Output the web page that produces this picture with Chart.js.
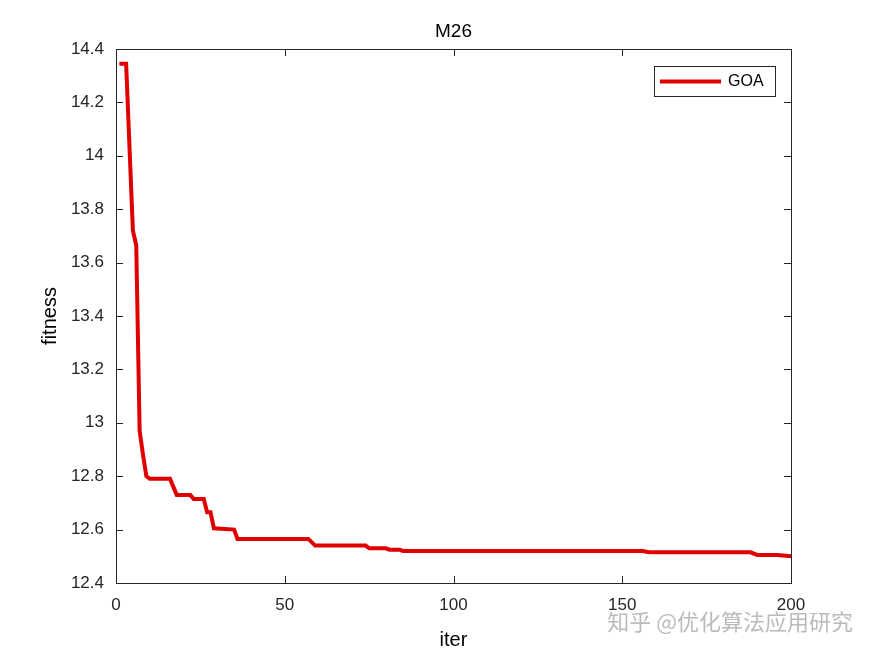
<!DOCTYPE html>
<html>
<head>
<meta charset="utf-8">
<script src="https://cdn.jsdelivr.net/npm/chart.js@4"></script>
<style>
body { margin: 0; background: #fff; }
#wrap { width: 875px; height: 656px; position: relative; }
</style>
</head>
<body>
<div id="wrap"><canvas id="c" width="875" height="656"></canvas></div>
<script>
// breakpoints of the convergence curve (iteration, best fitness)
const iters = [1, 3, 5, 6, 7, 8, 9, 10, 16, 18, 22, 23, 26, 27, 28, 29, 35, 36, 57, 59, 74, 75, 80, 81, 84, 85, 156, 158, 188, 190, 196, 200]
const fitness = [14.345, 14.345, 13.72, 13.665, 12.97, 12.88, 12.80, 12.79, 12.79, 12.73, 12.73, 12.715, 12.715, 12.665, 12.665, 12.605, 12.60, 12.565, 12.565, 12.54, 12.54, 12.53, 12.53, 12.525, 12.525, 12.52, 12.52, 12.515, 12.515, 12.505, 12.505, 12.50]
const yTicks = [12.4, 12.6, 12.8, 13, 13.2, 13.4, 13.6, 13.8, 14, 14.2, 14.4]
const xTicks = [0, 50, 100, 150, 200]

const font = "'Liberation Sans', Arial, sans-serif"

const framePlugin = {
    id: 'frame',
    afterDraw(chart) {
        const ctx = chart.ctx
        const a = chart.chartArea
        const xs = chart.scales.x, ys = chart.scales.y
        ctx.save()
        ctx.strokeStyle = '#262626'
        ctx.lineWidth = 1
        ctx.strokeRect(a.left + 0.5, a.top + 0.5, a.right - a.left, a.bottom - a.top)
        ctx.beginPath()
        xTicks.forEach(v => {
            const p = Math.round(xs.getPixelForValue(v)) + 0.5
            ctx.moveTo(p, a.bottom); ctx.lineTo(p, a.bottom - 7)
            ctx.moveTo(p, a.top); ctx.lineTo(p, a.top + 7)
        })
        yTicks.forEach(v => {
            const p = Math.round(ys.getPixelForValue(v)) + 0.5
            ctx.moveTo(a.left, p); ctx.lineTo(a.left + 7, p)
            ctx.moveTo(a.right, p); ctx.lineTo(a.right - 7, p)
        })
        ctx.stroke()
        // title
        ctx.fillStyle = '#000'
        ctx.font = '19px ' + font
        ctx.textAlign = 'center'
        ctx.textBaseline = 'middle'
        ctx.fillText('M26', (a.left + a.right) / 2, 32)
        // legend
        ctx.fillStyle = '#fff'
        ctx.fillRect(654.5, 66.5, 121, 30)
        ctx.strokeRect(654.5, 66.5, 121, 30)
        ctx.strokeStyle = '#e00000'
        ctx.lineWidth = 4
        ctx.beginPath(); ctx.moveTo(660, 81.5); ctx.lineTo(721, 81.5); ctx.stroke()
        ctx.fillStyle = '#000'
        ctx.font = '16px ' + font
        ctx.textAlign = 'left'
        ctx.fillText('GOA', 728, 82)
        // watermark
        ctx.fillStyle = 'rgba(175,175,175,0.85)'
        ctx.font = "22px 'Noto Sans CJK SC', sans-serif"
        ctx.textAlign = 'right'
        ctx.fillText('知乎 @优化算法应用研究', 853, 622)
        ctx.restore()
    }
}

new Chart(document.getElementById('c').getContext('2d'), {
    type: 'line',
    data: {
        datasets: [{
            label: 'GOA',
            data: iters.map((x, i) => ({ x: x, y: fitness[i] })),
            borderColor: '#e00000',
            borderWidth: 4,
            pointRadius: 0,
            tension: 0,
            fill: false
        }]
    },
    options: {
        responsive: false,
        animation: false,
        layout: { padding: { top: 49, right: 84, left: 34, bottom: 0 } },
        plugins: { legend: { display: false }, tooltip: { enabled: false } },
        scales: {
            x: {
                type: 'linear', min: 0, max: 200,
                afterBuildTicks: s => { s.ticks = xTicks.map(v => ({ value: v })) },
                afterFit: s => { s.height = 73 },
                grid: { display: false },
                border: { display: false },
                ticks: { color: '#262626', font: { family: font, size: 17 }, padding: 4, maxRotation: 0 },
                title: { display: true, text: 'iter', color: '#000', font: { family: font, size: 20 }, padding: { top: 2 } }
            },
            y: {
                type: 'linear', min: 12.4, max: 14.4,
                afterBuildTicks: s => { s.ticks = yTicks.map(v => ({ value: v })) },
                afterFit: s => { s.width = 82 },
                grid: { display: false },
                border: { display: false },
                ticks: { color: '#262626', font: { family: font, size: 17 }, padding: 4, callback: v => String(+v.toFixed(1)) },
                title: { display: true, text: 'fitness', color: '#000', font: { family: font, size: 20 }, padding: { bottom: 0 } }
            }
        }
    },
    plugins: [framePlugin]
})
</script>
</body>
</html>
